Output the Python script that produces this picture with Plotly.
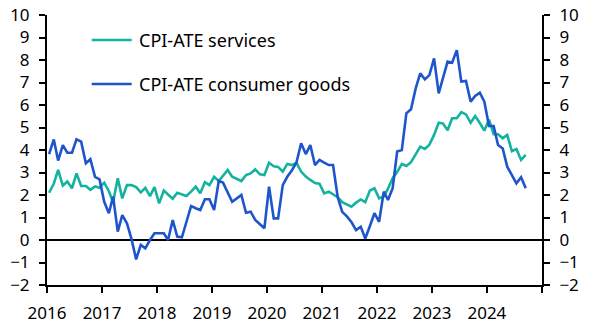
import pandas as pd
import plotly.graph_objects as go

# Monthly observations, January 2016 to September 2024 (% y/y)
months = pd.date_range("2016-01-01", "2024-09-01", freq="MS") + pd.Timedelta(days=14)

services = [
    2.10, 2.50, 3.12, 2.42, 2.60, 2.30, 2.96, 2.40, 2.40, 2.23, 2.38, 2.32,
    2.55, 2.17, 1.68, 2.74, 1.85, 2.44, 2.44, 2.35, 2.12, 2.32, 1.95, 2.35,
    1.63, 2.20, 2.02, 1.83, 2.10, 2.02, 1.96, 2.15, 2.37, 2.08, 2.57, 2.44,
    2.81, 2.62, 2.85, 3.11, 2.81, 2.72, 2.62, 2.89, 2.96, 3.14, 2.92, 2.89,
    3.43, 3.28, 3.25, 3.04, 3.38, 3.33, 3.43, 3.04, 2.82, 2.67, 2.53, 2.50,
    2.07, 2.15, 2.02, 1.90, 1.68, 1.58, 1.48, 1.66, 1.80, 1.68, 2.20, 2.30,
    1.85, 1.93, 2.28, 2.75, 3.02, 3.38, 3.29, 3.46, 3.80, 4.15, 4.05, 4.24,
    4.67, 5.21, 5.18, 4.88, 5.41, 5.41, 5.68, 5.58, 5.21, 5.51, 5.20, 4.86,
    5.35, 4.70, 4.70, 4.52, 4.67, 3.95, 4.04, 3.56, 3.78,
]

consumer_goods = [
    3.82, 4.47, 3.53, 4.22, 3.88, 3.88, 4.47, 4.37, 3.41, 3.59, 2.81, 2.70,
    1.70, 1.19, 1.93, 0.37, 1.11, 0.74, 0.05, -0.86, -0.22, -0.37, 0.00, 0.30,
    0.30, 0.30, 0.00, 0.89, 0.15, 0.12, 0.80, 1.51, 1.41, 1.33, 1.81, 1.81,
    1.33, 2.62, 2.55, 2.10, 1.70, 1.85, 2.00, 1.21, 1.26, 0.89, 0.71, 0.52,
    2.37, 0.96, 0.96, 2.44, 2.81, 3.10, 3.44, 4.30, 3.82, 4.22, 3.33, 3.56,
    3.44, 3.33, 3.33, 1.90, 1.25, 1.05, 0.80, 0.44, 0.59, 0.07, 0.62, 1.19,
    0.81, 2.15, 1.78, 2.30, 3.93, 4.00, 5.63, 5.81, 6.74, 7.41, 7.14, 7.33,
    8.07, 6.52, 7.19, 7.93, 7.88, 8.44, 7.04, 7.07, 6.15, 6.40, 6.55, 6.15,
    5.07, 5.07, 4.22, 4.07, 3.26, 2.89, 2.52, 2.79, 2.30,
]

year_ticks = [f"{y}-01-01" for y in range(2016, 2026)]
year_labels = [str(y) for y in range(2016, 2025)] + [""]
y_ticks = list(range(-2, 11))

names = ["CPI-ATE services", "CPI-ATE consumer goods"]
colors = ["#14B3A0", "#1F55CC"]

FONT = "Noto Sans"

fig = go.Figure()
fig.add_trace(go.Scatter(x=months, y=services, mode="lines", name=names[0],
                         line=dict(color=colors[0], width=2.6), yaxis="y"))
fig.add_trace(go.Scatter(x=months, y=consumer_goods, mode="lines", name=names[1],
                         line=dict(color=colors[1], width=2.6), yaxis="y2"))

axis_common = dict(
    range=[-2, 10], tickvals=y_ticks, ticks="outside", ticklen=6, tickwidth=2,
    tickcolor="black", showline=True, linewidth=2, linecolor="black",
    showgrid=False, tickfont=dict(family=FONT, size=17, color="black"),
    ticklabelstandoff=6, fixedrange=True, automargin=False,
)

fig.update_layout(
    width=591, height=331,
    margin=dict(l=47, r=49, t=15, b=46),
    paper_bgcolor="white", plot_bgcolor="white",
    showlegend=False,
    xaxis=dict(
        type="date", range=["2016-01-01", "2025-01-01"],
        tickvals=year_ticks, ticktext=year_labels,
        ticks="outside", ticklen=6, tickwidth=2, tickcolor="black",
        showline=True, linewidth=2, linecolor="black", showgrid=False,
        zeroline=False, tickfont=dict(family=FONT, size=17, color="black"),
        ticklabelstandoff=6, automargin=False,
    ),
    yaxis=dict(side="left", zeroline=True, zerolinecolor="black",
               zerolinewidth=2, **axis_common),
    yaxis2=dict(side="right", overlaying="y", zeroline=False, **axis_common),
)

# Legend keys drawn inside the plot area
legend_rows = [0.9074, 0.7444]
for name, color, yy in zip(names, colors, legend_rows):
    fig.add_shape(type="line", xref="paper", yref="paper",
                  x0=0.0903, x1=0.1711, y0=yy, y1=yy,
                  line=dict(color=color, width=2.6))
    fig.add_annotation(text=name, xref="paper", yref="paper",
                       x=0.1812, y=yy, xanchor="left", yanchor="middle",
                       showarrow=False,
                       font=dict(family=FONT, size=18, color="black"))

fig.write_html("out.html")
